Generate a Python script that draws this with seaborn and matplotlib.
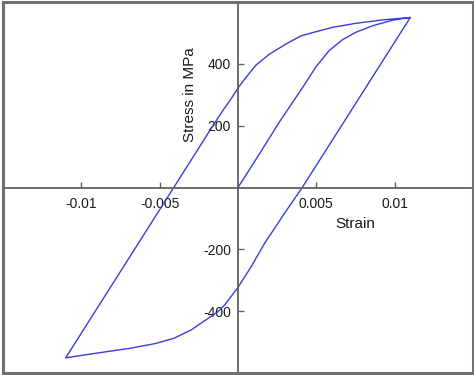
import matplotlib
matplotlib.use("Agg")
import matplotlib.pyplot as plt
import seaborn as sns
import pandas as pd
from matplotlib.patches import Rectangle

# ---- data ----
loading_strain = [0.0, 0.00136, 0.00263, 0.00348, 0.00412, 0.00497, 0.00582, 0.00667,
                  0.00752, 0.00858, 0.00985, 0.0110]
loading_stress = [0, 108, 211, 275, 323, 390, 443, 478, 502, 523, 541, 550]

unloading_strain = [0.0110, 0.0041, 0.00338, 0.00295, 0.00168, 0.00083, 0.0, -0.00087,
                    -0.00129, -0.00193, -0.0030, -0.0041, -0.0053, -0.0070, -0.0092, -0.0110]
unloading_stress = [550, 0, -53, -85, -182, -257, -323, -381, -402, -424, -461, -488,
                    -505, -521, -537, -551]

reloading_strain = [-0.0110, -0.0041, -0.0016, -0.00098, -0.00045, 0.0, 0.00051, 0.00115,
                    0.0020, 0.00306, 0.0040, 0.00476, 0.00603, 0.00752, 0.00922, 0.0110]
reloading_stress = [-551, 0, 200, 248, 286, 322, 356, 396, 431, 464, 490, 501, 518, 531,
                    542, 550]

x_ticks = [-0.01, -0.005, 0.005, 0.01]
x_tick_labels = ["-0.01", "-0.005", "0.005", "0.01"]
y_ticks = [-400, -200, 200, 400]
y_tick_labels = ["-400", "-200", "200", "400"]

x_label = "Strain"
y_label = "Stress in MPa"

# ---- build path ----
strain = loading_strain + unloading_strain[1:] + reloading_strain[1:]
stress = loading_stress + unloading_stress[1:] + reloading_stress[1:]
df = pd.DataFrame({"strain": strain, "stress": stress})

sns.set_theme(style="white")
plt.rcParams["font.family"] = ["Liberation Sans", "DejaVu Sans"]

fig = plt.figure(figsize=(4.74, 3.75), dpi=100)
ax = fig.add_axes([3 / 474, 2 / 375, 470 / 474, 371 / 375])

sns.lineplot(data=df, x="strain", y="stress", sort=False, estimator=None,
             color="#3c3cd8", linewidth=1.0, ax=ax)

ax.set_xlim(-0.015, 0.015)
ax.set_ylim(-600, 600)

axis_color = "#606060"
for side in ["left", "bottom"]:
    ax.spines[side].set_position(("data", 0))
    ax.spines[side].set_color(axis_color)
    ax.spines[side].set_linewidth(1.3)
    ax.spines[side].set_visible(True)
for side in ["top", "right"]:
    ax.spines[side].set_visible(False)

# outer border
border = Rectangle((0, 0), 1, 1, transform=ax.transAxes, fill=False,
                   edgecolor="#707070", linewidth=2.2, clip_on=False, zorder=5)
ax.add_patch(border)

ax.set_xticks(x_ticks)
ax.set_xticklabels(x_tick_labels)
ax.set_yticks(y_ticks)
ax.set_yticklabels(y_tick_labels)
ax.tick_params(axis="both", direction="in", length=4, width=1, color=axis_color,
               labelsize=10, labelcolor="#1a1a1a")
ax.tick_params(axis="x", pad=7)
ax.tick_params(axis="y", pad=5)
ax.xaxis.set_ticks_position("bottom")
ax.yaxis.set_ticks_position("left")

ax.set_xlabel("")
ax.set_ylabel("")
ax.text(0.0075, -119, x_label, ha="center", va="center", fontsize=11, color="#1a1a1a")
ax.text(-0.00309, 300, y_label, ha="center", va="center", rotation=90,
        fontsize=11, color="#1a1a1a")

fig.savefig("out.png", dpi=100)
